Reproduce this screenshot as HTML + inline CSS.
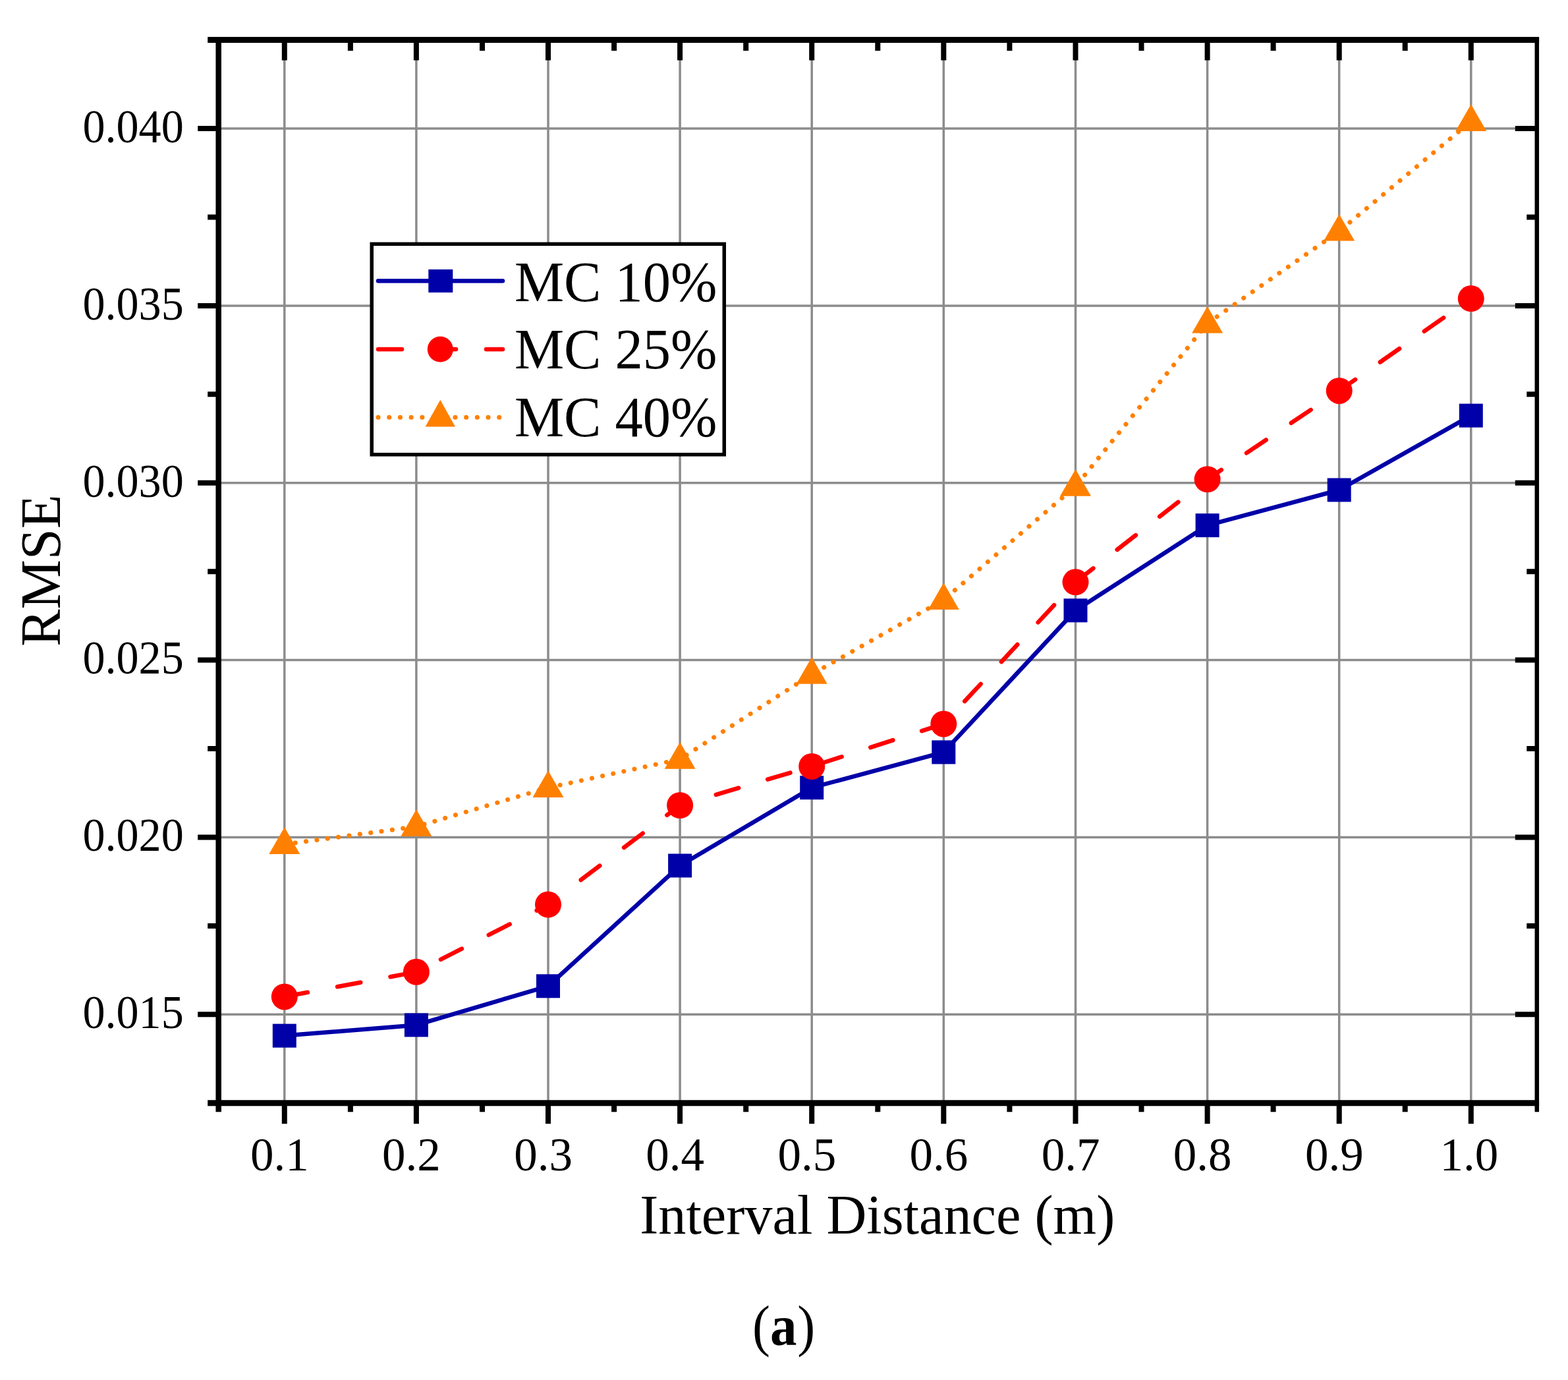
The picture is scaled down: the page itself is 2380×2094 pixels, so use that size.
<!DOCTYPE html><html><head><meta charset="utf-8"><title>RMSE vs Interval Distance</title>
<style>html,body{margin:0;padding:0;background:#fff;}svg{display:block;}text{font-family:"Liberation Serif","Times New Roman",serif;fill:#000;}</style></head><body>
<svg width="2380" height="2094" viewBox="0 0 2380 2094">
<rect width="2380" height="2094" fill="#fff"/>
<path d="M431.8 60.6V1673.7M631.9 60.6V1673.7M832.0 60.6V1673.7M1032.1 60.6V1673.7M1232.2 60.6V1673.7M1432.3 60.6V1673.7M1632.5 60.6V1673.7M1832.6 60.6V1673.7M2032.7 60.6V1673.7M2232.8 60.6V1673.7M331.7 1539.3H2332.8M331.7 1270.4H2332.8M331.7 1001.6H2332.8M331.7 732.7H2332.8M331.7 463.9H2332.8M331.7 195.0H2332.8" stroke="#8c8c8c" stroke-width="3.5" fill="none"/>
<polyline points="431.8,1571.6 631.9,1555.4 832.0,1496.3 1032.1,1313.5 1232.2,1195.2 1432.3,1141.4 1632.5,926.3 1832.6,797.2 2032.7,743.5 2232.8,630.6" fill="none" stroke="#0000a8" stroke-width="6.5" stroke-linejoin="round"/>
<rect x="413.8" y="1553.6" width="36.0" height="36.0" fill="#0000a8"/>
<rect x="613.9" y="1537.4" width="36.0" height="36.0" fill="#0000a8"/>
<rect x="814.0" y="1478.3" width="36.0" height="36.0" fill="#0000a8"/>
<rect x="1014.1" y="1295.5" width="36.0" height="36.0" fill="#0000a8"/>
<rect x="1214.2" y="1177.2" width="36.0" height="36.0" fill="#0000a8"/>
<rect x="1414.3" y="1123.4" width="36.0" height="36.0" fill="#0000a8"/>
<rect x="1614.5" y="908.3" width="36.0" height="36.0" fill="#0000a8"/>
<rect x="1814.6" y="779.2" width="36.0" height="36.0" fill="#0000a8"/>
<rect x="2014.7" y="725.5" width="36.0" height="36.0" fill="#0000a8"/>
<rect x="2214.8" y="612.6" width="36.0" height="36.0" fill="#0000a8"/>
<polyline points="431.8,1512.4 631.9,1474.8 832.0,1372.6 1032.1,1222.0 1232.2,1162.9 1432.3,1098.4 1632.5,883.3 1832.6,727.3 2032.7,592.9 2232.8,453.1" fill="none" stroke="#ff0000" stroke-width="6.5" stroke-dasharray="35.8 45.95" stroke-linecap="round"/>
<circle cx="431.8" cy="1512.4" r="20.0" fill="#ff0000"/>
<circle cx="631.9" cy="1474.8" r="20.0" fill="#ff0000"/>
<circle cx="832.0" cy="1372.6" r="20.0" fill="#ff0000"/>
<circle cx="1032.1" cy="1222.0" r="20.0" fill="#ff0000"/>
<circle cx="1232.2" cy="1162.9" r="20.0" fill="#ff0000"/>
<circle cx="1432.3" cy="1098.4" r="20.0" fill="#ff0000"/>
<circle cx="1632.5" cy="883.3" r="20.0" fill="#ff0000"/>
<circle cx="1832.6" cy="727.3" r="20.0" fill="#ff0000"/>
<circle cx="2032.7" cy="592.9" r="20.0" fill="#ff0000"/>
<circle cx="2232.8" cy="453.1" r="20.0" fill="#ff0000"/>
<polyline points="431.8,1281.2 631.9,1254.3 832.0,1195.2 1032.1,1152.1 1232.2,1023.1 1432.3,910.2 1632.5,738.1 1832.6,490.7 2032.7,350.9 2232.8,184.2" fill="none" stroke="#ff8000" stroke-width="7" stroke-dasharray="0.1 16.4" stroke-linecap="round"/>
<polygon points="431.8,1255.2 408.3,1295.9 455.3,1295.9" fill="#ff8000"/>
<polygon points="631.9,1228.3 608.4,1269.0 655.4,1269.0" fill="#ff8000"/>
<polygon points="832.0,1169.2 808.5,1209.9 855.5,1209.9" fill="#ff8000"/>
<polygon points="1032.1,1126.1 1008.6,1166.8 1055.6,1166.8" fill="#ff8000"/>
<polygon points="1232.2,997.1 1208.7,1037.8 1255.7,1037.8" fill="#ff8000"/>
<polygon points="1432.3,884.2 1408.8,924.9 1455.8,924.9" fill="#ff8000"/>
<polygon points="1632.5,712.1 1609.0,752.8 1656.0,752.8" fill="#ff8000"/>
<polygon points="1832.6,464.7 1809.1,505.4 1856.1,505.4" fill="#ff8000"/>
<polygon points="2032.7,324.9 2009.2,365.6 2056.2,365.6" fill="#ff8000"/>
<polygon points="2232.8,158.2 2209.3,198.9 2256.3,198.9" fill="#ff8000"/>
<path d="M431.8 1673.7V1705.2M431.8 60.6V91.6M631.9 1673.7V1705.2M631.9 60.6V91.6M832.0 1673.7V1705.2M832.0 60.6V91.6M1032.1 1673.7V1705.2M1032.1 60.6V91.6M1232.2 1673.7V1705.2M1232.2 60.6V91.6M1432.3 1673.7V1705.2M1432.3 60.6V91.6M1632.5 1673.7V1705.2M1632.5 60.6V91.6M1832.6 1673.7V1705.2M1832.6 60.6V91.6M2032.7 1673.7V1705.2M2032.7 60.6V91.6M2232.8 1673.7V1705.2M2232.8 60.6V91.6M531.9 1673.7V1687.2M531.9 60.6V77.1M732.0 1673.7V1687.2M732.0 60.6V77.1M932.1 1673.7V1687.2M932.1 60.6V77.1M1132.2 1673.7V1687.2M1132.2 60.6V77.1M1332.3 1673.7V1687.2M1332.3 60.6V77.1M1532.4 1673.7V1687.2M1532.4 60.6V77.1M1732.5 1673.7V1687.2M1732.5 60.6V77.1M1932.6 1673.7V1687.2M1932.6 60.6V77.1M2132.7 1673.7V1687.2M2132.7 60.6V77.1M331.7 1539.3H300.2M2332.8 1539.3H2299.8M331.7 1270.4H300.2M2332.8 1270.4H2299.8M331.7 1001.6H300.2M2332.8 1001.6H2299.8M331.7 732.7H300.2M2332.8 732.7H2299.8M331.7 463.9H300.2M2332.8 463.9H2299.8M331.7 195.0H300.2M2332.8 195.0H2299.8M331.7 1404.9H315.2M2332.8 1404.9H2317.3M331.7 1136.0H315.2M2332.8 1136.0H2317.3M331.7 867.2H315.2M2332.8 867.2H2317.3M331.7 598.3H315.2M2332.8 598.3H2317.3M331.7 329.4H315.2M2332.8 329.4H2317.3" stroke="#000" stroke-width="8.0" fill="none"/>
<path d="M331.7 56.1V1687.2" stroke="#000" stroke-width="8.5"/>
<path d="M2332.8 56.1V1687.2" stroke="#000" stroke-width="6.5"/>
<path d="M315.2 60.6H2336.1" stroke="#000" stroke-width="9.0"/>
<path d="M315.2 1673.7H2336.1" stroke="#000" stroke-width="9.0"/>
<text transform="translate(125.4,1560.1) scale(0.96,1)" font-size="71">0.015</text>
<text transform="translate(125.4,1291.2) scale(0.96,1)" font-size="71">0.020</text>
<text transform="translate(125.4,1022.4) scale(0.96,1)" font-size="71">0.025</text>
<text transform="translate(125.4,753.5) scale(0.96,1)" font-size="71">0.030</text>
<text transform="translate(125.4,484.7) scale(0.96,1)" font-size="71">0.035</text>
<text transform="translate(125.4,215.8) scale(0.96,1)" font-size="71">0.040</text>
<text x="380.0" y="1775.8" font-size="71">0.1</text>
<text x="580.1" y="1775.8" font-size="71">0.2</text>
<text x="780.2" y="1775.8" font-size="71">0.3</text>
<text x="980.3" y="1775.8" font-size="71">0.4</text>
<text x="1180.4" y="1775.8" font-size="71">0.5</text>
<text x="1380.5" y="1775.8" font-size="71">0.6</text>
<text x="1580.7" y="1775.8" font-size="71">0.7</text>
<text x="1780.8" y="1775.8" font-size="71">0.8</text>
<text x="1980.9" y="1775.8" font-size="71">0.9</text>
<text x="2185.6" y="1775.8" font-size="71">1.0</text>
<text transform="translate(971.2,1872.4) scale(0.992,1)" font-size="85">Interval Distance (m)</text>
<text transform="translate(91,981.1) rotate(-90) scale(0.985,1)" font-size="86">RMSE</text>
<rect x="564.25" y="370.25" width="535.0" height="319.5" fill="#fff" stroke="#000" stroke-width="5.5"/>
<path d="M574 426.3H763" stroke="#0000a8" stroke-width="6.5" stroke-linecap="round"/>
<rect x="650.3" y="408.8" width="37" height="35" fill="#0000a8"/>
<path d="M574 530.0H763" stroke="#ff0000" stroke-width="6.5" stroke-dasharray="36 46" stroke-linecap="round"/>
<circle cx="668.3" cy="530.0" r="19.5" fill="#ff0000"/>
<path d="M574 633.3H766" stroke="#ff8000" stroke-width="7" stroke-dasharray="0.1 16.6" stroke-linecap="round"/>
<polygon points="668.3,606.8 645.6,647.4 691,647.4" fill="#ff8000"/>
<text transform="translate(780.9,457.3) scale(0.983,1)" font-size="86">MC 10%</text>
<text transform="translate(780.9,559.4) scale(0.983,1)" font-size="86">MC 25%</text>
<text transform="translate(780.9,662.1) scale(0.983,1)" font-size="86">MC 40%</text>
<text transform="translate(1142.1,2041.3) scale(0.93,1)" font-size="87">(<tspan font-weight="bold">a</tspan><tspan dx="0.7">)</tspan></text>
</svg></body></html>
